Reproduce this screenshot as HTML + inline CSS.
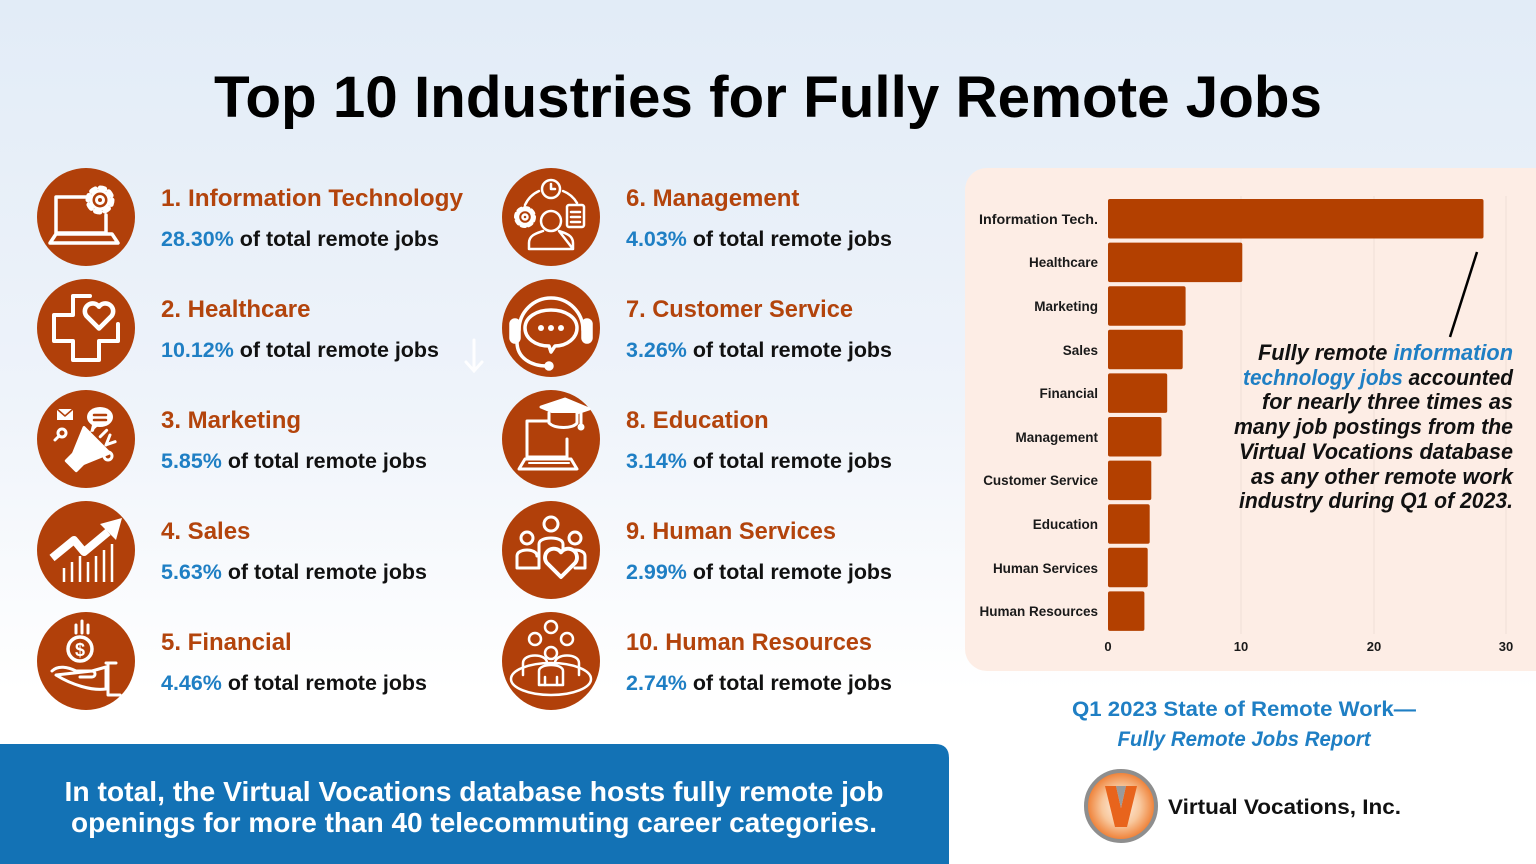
<!DOCTYPE html>
<html>
<head>
<meta charset="utf-8">
<style>
  html,body{margin:0;padding:0;}
  body{width:1536px;height:864px;overflow:hidden;background:#fff;}
  svg{display:block;font-family:"Liberation Sans", Arial, sans-serif;}
</style>
</head>
<body>
<svg width="1536" height="864" viewBox="0 0 1536 864" xmlns="http://www.w3.org/2000/svg">
  <defs>
    <linearGradient id="bg" x1="0" y1="0" x2="0" y2="1">
      <stop offset="0" stop-color="#e2ecf7"/>
      <stop offset="0.45" stop-color="#eef3fa"/>
      <stop offset="0.8" stop-color="#ffffff"/>
      <stop offset="1" stop-color="#ffffff"/>
    </linearGradient>
    <radialGradient id="logoGrad" cx="0.5" cy="0.5" r="0.5">
      <stop offset="0" stop-color="#fff4ea"/>
      <stop offset="0.55" stop-color="#f8c79c"/>
      <stop offset="1" stop-color="#ee7a2e"/>
    </radialGradient>
  </defs>

  <rect x="0" y="0" width="1536" height="864" fill="url(#bg)"/>

  <text x="768" y="117" text-anchor="middle" font-size="58" font-weight="bold" fill="#000" textLength="1108" lengthAdjust="spacingAndGlyphs">Top 10 Industries for Fully Remote Jobs</text>

  <g fill="#b1400a">
    <circle cx="86" cy="217" r="49"/>
    <circle cx="86" cy="328" r="49"/>
    <circle cx="86" cy="439" r="49"/>
    <circle cx="86" cy="550" r="49"/>
    <circle cx="86" cy="661" r="49"/>
    <circle cx="551" cy="217" r="49"/>
    <circle cx="551" cy="328" r="49"/>
    <circle cx="551" cy="439" r="49"/>
    <circle cx="551" cy="550" r="49"/>
    <circle cx="551" cy="661" r="49"/>
  </g>

  <g transform="translate(86,217)" stroke="#fff" fill="none" stroke-width="3.5" stroke-linejoin="round" stroke-linecap="round">
    <path d="M2,-20 H-30 V16 H20 V-2"/>
    <path d="M-36,26 L-30,17 H26 L32,26 Z"/>
    <circle cx="14" cy="-17" r="12" stroke-width="5" stroke-dasharray="4.5 4.9"/>
    <circle cx="14" cy="-17" r="9" fill="#b1400a" stroke-width="3"/>
    <circle cx="14" cy="-17" r="3.5" stroke-width="3"/>
  </g>

  <g transform="translate(86,328)" stroke="#fff" fill="none" stroke-width="4" stroke-linejoin="round" stroke-linecap="round">
    <path d="M4,-32 H-13 V-13 H-32 V13 H-13 V32 H13 V13 H32 V-4"/>
    <path transform="translate(13,-11) scale(1.15)" d="M0,10 L-11,-1 A6,6 0 0 1 0,-9 A6,6 0 0 1 11,-1 Z"/>
  </g>

  <g transform="translate(86,439)" stroke="#fff" fill="none" stroke-width="3" stroke-linejoin="round" stroke-linecap="round">
    <g transform="translate(-2,14) rotate(-45)">
      <path d="M-8,-7 L18,-18 L18,18 L-8,7 Z" fill="#fff"/>
      <rect x="-18" y="-7" width="10" height="14" fill="#fff"/>
      <path d="M22,-10 L30,-14 M23,0 H32 M22,10 L30,14"/>
    </g>
    <rect x="-29" y="-30" width="16" height="11" fill="#fff" stroke="none"/>
    <path d="M-29,-30 L-21,-23 L-13,-30" stroke="#b1400a" stroke-width="1.5"/>
    <ellipse cx="14" cy="-22" rx="13" ry="10" fill="#fff" stroke="none"/>
    <path d="M6,-14 L4,-6 L12,-13 Z" fill="#fff" stroke="none"/>
    <path d="M8,-24 H20 M8,-19 H20" stroke="#b1400a" stroke-width="2.5"/>
    <circle cx="-24" cy="-6" r="4"/>
    <path d="M-27,-3 L-31,1"/>
    <path d="M24,-4 L20,6"/>
    <circle cx="22" cy="17" r="4"/>
  </g>

  <g transform="translate(86,550)" stroke="#fff" fill="none" stroke-linejoin="round" stroke-linecap="butt">
    <path d="M-34,8 L-12,-10 L-2,2 L22,-18" stroke-width="8"/>
    <path d="M14,-26 L36,-32 L30,-10 Z" fill="#fff" stroke="none"/>
    <g stroke-width="2.5">
      <line x1="-22" y1="18" x2="-22" y2="32"/>
      <line x1="-14" y1="12" x2="-14" y2="32"/>
      <line x1="-6" y1="6" x2="-6" y2="32"/>
      <line x1="2" y1="12" x2="2" y2="32"/>
      <line x1="10" y1="6" x2="10" y2="32"/>
      <line x1="18" y1="0" x2="18" y2="32"/>
      <line x1="26" y1="-6" x2="26" y2="32"/>
    </g>
  </g>

  <g transform="translate(86,661)" stroke="#fff" fill="none" stroke-width="3" stroke-linejoin="round" stroke-linecap="round">
    <path d="M-10,-36 V-28 M-4,-40 V-28 M2,-36 V-28"/>
    <circle cx="-6" cy="-12" r="12" stroke-width="3.5"/>
    <text x="-6" y="-5" text-anchor="middle" font-size="18" font-weight="bold" fill="#fff" stroke="none">$</text>
    <path d="M-34,10 C-28,4 -18,6 -10,10 L6,10 C10,10 10,16 6,16 L-6,16 M6,10 L20,6 V28 C6,30 -14,24 -30,14 Z"/>
    <path d="M20,2 H30 M22,2 V34 H34"/>
  </g>

  <g transform="translate(551,217)" stroke="#fff" fill="none" stroke-width="2.5" stroke-linejoin="round" stroke-linecap="round">
    <circle cx="0" cy="4" r="10"/>
    <path d="M-22,32 V26 C-22,18 -14,16 -8,14 M8,14 C14,16 22,18 22,26 V32 Z M-22,32 H22"/>
    <circle cx="-26" cy="0" r="9" stroke-width="4" stroke-dasharray="3.5 3.5"/>
    <circle cx="-26" cy="0" r="7" fill="#b1400a"/>
    <circle cx="-26" cy="0" r="2.5"/>
    <rect x="16" y="-12" width="17" height="22" rx="2"/>
    <path d="M20,-5 H29 M20,0 H29 M20,5 H29"/>
    <circle cx="0" cy="-28" r="9"/>
    <path d="M0,-33 V-28 H4"/>
    <path d="M-12,-26 A28,28 0 0 0 -26,-12 M12,-26 A28,28 0 0 1 26,-14"/>
  </g>

  <g transform="translate(551,328)" stroke="#fff" fill="none" stroke-width="3.5" stroke-linejoin="round" stroke-linecap="round">
    <path d="M-32,2 A32,32 0 0 1 32,2"/>
    <rect x="-40" y="-8" width="8" height="22" rx="4" fill="#fff"/>
    <rect x="32" y="-8" width="8" height="22" rx="4" fill="#fff"/>
    <path d="M-34,14 C-34,30 -20,38 -4,38"/>
    <circle cx="-2" cy="38" r="3" fill="#fff"/>
    <path d="M-2,18 C-16,18 -26,10 -26,0 C-26,-11 -14,-18 0,-18 C14,-18 26,-11 26,0 C26,10 16,18 4,18 L0,24 Z"/>
    <circle cx="-10" cy="0" r="3" fill="#fff" stroke="none"/>
    <circle cx="0" cy="0" r="3" fill="#fff" stroke="none"/>
    <circle cx="10" cy="0" r="3" fill="#fff" stroke="none"/>
  </g>

  <g transform="translate(551,439)" stroke="#fff" fill="none" stroke-width="3" stroke-linejoin="round" stroke-linecap="round">
    <path d="M-2,-18 H-24 V18 H16 V0"/>
    <path d="M-32,30 L-26,20 H20 L26,30 Z"/>
    <path d="M-22,24 H18" stroke-width="2"/>
    <path d="M-10,-32 L14,-40 L38,-30 L14,-22 Z" fill="#fff"/>
    <path d="M-2,-26 V-16 C4,-10 22,-10 26,-16 V-26" fill="#b1400a"/>
    <path d="M30,-28 V-14"/>
    <circle cx="30" cy="-12" r="2" fill="#fff"/>
  </g>

  <g transform="translate(551,550)" stroke="#fff" fill="none" stroke-width="3" stroke-linejoin="round" stroke-linecap="round">
    <circle cx="0" cy="-26" r="7"/>
    <circle cx="-24" cy="-12" r="6"/>
    <circle cx="24" cy="-12" r="6"/>
    <path d="M-12,4 V-6 C-12,-14 12,-14 12,-6 V4"/>
    <path d="M-12,18 H-34 V6 C-34,-2 -14,-2 -14,6"/>
    <path d="M14,6 C14,-2 34,-2 34,6 V18 H24"/>
    <path d="M-12,4 V18"/>
    <path transform="translate(10,14) scale(1.3)" d="M0,10 L-11,-1 A6,6 0 0 1 0,-9 A6,6 0 0 1 11,-1 Z" fill="#b1400a"/>
  </g>

  <g transform="translate(551,661)" stroke="#fff" fill="none" stroke-width="2.5" stroke-linejoin="round" stroke-linecap="round">
    <ellipse cx="0" cy="18" rx="40" ry="16"/>
    <circle cx="0" cy="-34" r="6"/>
    <circle cx="-16" cy="-22" r="6"/>
    <circle cx="16" cy="-22" r="6"/>
    <circle cx="0" cy="-8" r="6"/>
    <path d="M-28,14 V2 C-28,-8 -4,-8 -4,2"/>
    <path d="M4,2 C4,-8 28,-8 28,2 V14"/>
    <path d="M-12,24 V10 C-12,2 12,2 12,10 V24 Z" fill="#b1400a"/>
    <path d="M-6,24 V16 M6,24 V16"/>
  </g>

  <g stroke="#ffffff" stroke-width="3" fill="none" stroke-linecap="round" opacity="0.9">
    <path d="M474,340 V370 M466,362 L474,371 L482,362"/>
  </g>

  <g font-weight="bold">
    <g font-size="24" fill="#b3440c">
      <text x="161" y="206" textLength="302" lengthAdjust="spacingAndGlyphs">1. Information Technology</text>
      <text x="161" y="317">2. Healthcare</text>
      <text x="161" y="428">3. Marketing</text>
      <text x="161" y="539">4. Sales</text>
      <text x="161" y="650">5. Financial</text>
      <text x="626" y="206">6. Management</text>
      <text x="626" y="317" textLength="227" lengthAdjust="spacingAndGlyphs">7. Customer Service</text>
      <text x="626" y="428">8. Education</text>
      <text x="626" y="539" textLength="210" lengthAdjust="spacingAndGlyphs">9. Human Services</text>
      <text x="626" y="650" textLength="246" lengthAdjust="spacingAndGlyphs">10. Human Resources</text>
    </g>
    <g font-size="21" fill="#111">
      <text x="161" y="246" textLength="278" lengthAdjust="spacingAndGlyphs"><tspan fill="#1f7fc4">28.30%</tspan> of total remote jobs</text>
      <text x="161" y="357" textLength="278" lengthAdjust="spacingAndGlyphs"><tspan fill="#1f7fc4">10.12%</tspan> of total remote jobs</text>
      <text x="161" y="468" textLength="266" lengthAdjust="spacingAndGlyphs"><tspan fill="#1f7fc4">5.85%</tspan> of total remote jobs</text>
      <text x="161" y="579" textLength="266" lengthAdjust="spacingAndGlyphs"><tspan fill="#1f7fc4">5.63%</tspan> of total remote jobs</text>
      <text x="161" y="690" textLength="266" lengthAdjust="spacingAndGlyphs"><tspan fill="#1f7fc4">4.46%</tspan> of total remote jobs</text>
      <text x="626" y="246" textLength="266" lengthAdjust="spacingAndGlyphs"><tspan fill="#1f7fc4">4.03%</tspan> of total remote jobs</text>
      <text x="626" y="357" textLength="266" lengthAdjust="spacingAndGlyphs"><tspan fill="#1f7fc4">3.26%</tspan> of total remote jobs</text>
      <text x="626" y="468" textLength="266" lengthAdjust="spacingAndGlyphs"><tspan fill="#1f7fc4">3.14%</tspan> of total remote jobs</text>
      <text x="626" y="579" textLength="266" lengthAdjust="spacingAndGlyphs"><tspan fill="#1f7fc4">2.99%</tspan> of total remote jobs</text>
      <text x="626" y="690" textLength="266" lengthAdjust="spacingAndGlyphs"><tspan fill="#1f7fc4">2.74%</tspan> of total remote jobs</text>
    </g>
  </g>

  <rect x="965" y="168" width="600" height="503" rx="22" fill="#fdede5"/>
  <g stroke="#eedfd7" stroke-width="1">
    <line x1="1241" y1="196" x2="1241" y2="634"/>
    <line x1="1374" y1="196" x2="1374" y2="634"/>
    <line x1="1506" y1="196" x2="1506" y2="634"/>
  </g>
  <g fill="#b34000">
    <rect x="1108" y="199" width="375.5" height="39.5" rx="2"/>
    <rect x="1108" y="242.6" width="134.3" height="39.5" rx="2"/>
    <rect x="1108" y="286.2" width="77.6" height="39.5" rx="2"/>
    <rect x="1108" y="329.8" width="74.7" height="39.5" rx="2"/>
    <rect x="1108" y="373.4" width="59.2" height="39.5" rx="2"/>
    <rect x="1108" y="417" width="53.5" height="39.5" rx="2"/>
    <rect x="1108" y="460.6" width="43.3" height="39.5" rx="2"/>
    <rect x="1108" y="504.2" width="41.7" height="39.5" rx="2"/>
    <rect x="1108" y="547.8" width="39.7" height="39.5" rx="2"/>
    <rect x="1108" y="591.4" width="36.4" height="39.5" rx="2"/>
  </g>
  <g font-size="13.5" font-weight="bold" fill="#1a1a1a" text-anchor="end">
    <text x="1098" y="224" textLength="119" lengthAdjust="spacingAndGlyphs">Information Tech.</text>
    <text x="1098" y="267">Healthcare</text>
    <text x="1098" y="311">Marketing</text>
    <text x="1098" y="355">Sales</text>
    <text x="1098" y="398">Financial</text>
    <text x="1098" y="442">Management</text>
    <text x="1098" y="485">Customer Service</text>
    <text x="1098" y="529">Education</text>
    <text x="1098" y="573">Human Services</text>
    <text x="1098" y="616">Human Resources</text>
  </g>
  <g font-size="13" font-weight="bold" fill="#1a1a1a" text-anchor="middle">
    <text x="1108" y="651">0</text>
    <text x="1241" y="651">10</text>
    <text x="1374" y="651">20</text>
    <text x="1506" y="651">30</text>
  </g>

  <line x1="1477" y1="252" x2="1450" y2="337" stroke="#000" stroke-width="2.5"/>
  <g font-size="22" font-weight="bold" font-style="italic" fill="#111" text-anchor="end">
    <text x="1513" y="360" textLength="255" lengthAdjust="spacingAndGlyphs">Fully remote <tspan fill="#1f7fc4">information</tspan></text>
    <text x="1513" y="385" textLength="270" lengthAdjust="spacingAndGlyphs"><tspan fill="#1f7fc4">technology jobs</tspan> accounted</text>
    <text x="1513" y="409" textLength="251" lengthAdjust="spacingAndGlyphs">for nearly three times as</text>
    <text x="1513" y="434" textLength="279" lengthAdjust="spacingAndGlyphs">many job postings from the</text>
    <text x="1513" y="459" textLength="274" lengthAdjust="spacingAndGlyphs">Virtual Vocations database</text>
    <text x="1513" y="484" textLength="262" lengthAdjust="spacingAndGlyphs">as any other remote work</text>
    <text x="1513" y="508" textLength="274" lengthAdjust="spacingAndGlyphs">industry during Q1 of 2023.</text>
  </g>

  <path d="M0,744 H935 Q949,744 949,758 V864 H0 Z" fill="#1372b5"/>
  <g font-size="28" font-weight="bold" fill="#fff" text-anchor="middle">
    <text x="474" y="801" textLength="819" lengthAdjust="spacingAndGlyphs">In total, the Virtual Vocations database hosts fully remote job</text>
    <text x="474" y="832" textLength="806" lengthAdjust="spacingAndGlyphs">openings for more than 40 telecommuting career categories.</text>
  </g>

  <g font-weight="bold" fill="#1f7fc4" text-anchor="middle">
    <text x="1244" y="716" font-size="21" textLength="344" lengthAdjust="spacingAndGlyphs">Q1 2023 State of Remote Work—</text>
    <text x="1244" y="746" font-size="21" font-style="italic" textLength="253" lengthAdjust="spacingAndGlyphs">Fully Remote Jobs Report</text>
  </g>

  <circle cx="1121" cy="806" r="35" fill="url(#logoGrad)" stroke="#8e8e8e" stroke-width="4"/>
  <path d="M1105,786 H1116 L1121,808 L1126,786 H1137 L1127,827 H1115 Z" fill="#e8641c"/>
  <path d="M1116,786 H1126 L1121,808 Z" fill="#9a9a9a"/>
  <text x="1168" y="814" font-size="21" font-weight="bold" fill="#111" textLength="233" lengthAdjust="spacingAndGlyphs">Virtual Vocations, Inc.</text>
</svg>
</body>
</html>
